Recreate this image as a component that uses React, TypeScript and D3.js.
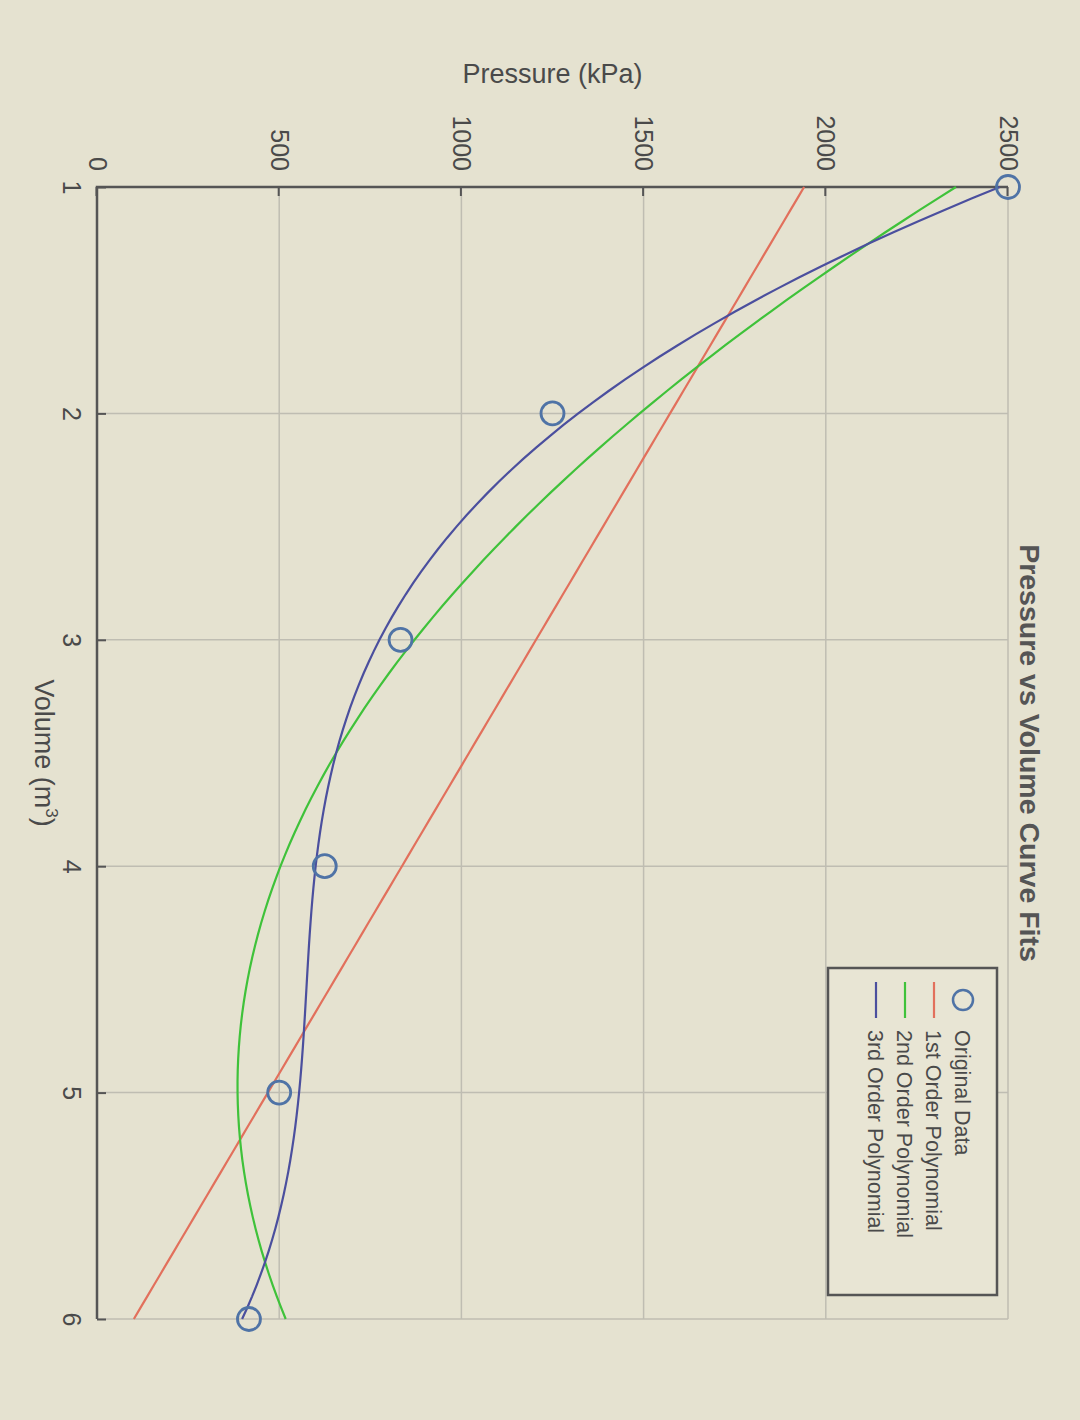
import React, { useEffect, useRef } from "react";
import * as d3 from "d3";

// ---- data ----
const volume = [1, 2, 3, 4, 5, 6];
const pressure = [2500, 1250, 833, 625, 500, 417];
// polynomial coefficients (c0 + c1*V + c2*V^2 + c3*V^3) of the fitted curves
const linearCoef = [2308.3, -367.86];
const quadCoef = [3475.0, -1242.86, 125.0];
const cubicCoef = [4486.1, -2514.8, 546.3, -40.12];
const xTicks = [1, 2, 3, 4, 5, 6];
const yTicks = [0, 500, 1000, 1500, 2000, 2500];
const legendLabels = ["Original Data", "1st Order Polynomial", "2nd Order Polynomial", "3rd Order Polynomial"];
const title = "Pressure vs Volume Curve Fits";
const xLabel = "Volume (m";
const yLabel = "Pressure (kPa)";

const FONT = "Liberation Sans, Arial, sans-serif";
const COLORS = { data: "#4f73a6", lin: "#e2705c", quad: "#3fc23a", cubic: "#4b4f9e" };

export default function App() {
  const ref = useRef<SVGSVGElement>(null);

  useEffect(() => {
    const svg = d3.select(ref.current);
    svg.selectAll("*").remove();
    svg.append("rect").attr("width", 1080).attr("height", 1420).attr("fill", "#e5e2d0");

    // chart drawn unrotated, then turned 90deg clockwise
    const g = svg.append("g").attr("transform", "translate(1080,0) rotate(90)");
    const x = d3.scaleLinear().domain([1, 6]).range([187, 1319]);
    const y = d3.scaleLinear().domain([0, 2500]).range([983, 72]);

    // grid
    g.append("g").selectAll("line").data(xTicks.slice(1)).join("line")
      .attr("x1", (d) => x(d)).attr("x2", (d) => x(d)).attr("y1", y(0)).attr("y2", y(2500))
      .attr("stroke", "#bfbdb2").attr("stroke-width", 1.5);
    g.append("g").selectAll("line").data(yTicks.slice(1)).join("line")
      .attr("y1", (d) => y(d)).attr("y2", (d) => y(d)).attr("x1", x(1)).attr("x2", x(6))
      .attr("stroke", "#bfbdb2").attr("stroke-width", 1.5);

    // axes
    const xAxis = d3.axisBottom(x).tickValues(xTicks).tickSize(-9).tickPadding(16).tickFormat(d3.format("d"));
    const yAxis = d3.axisLeft(y).tickValues(yTicks).tickSize(-9).tickPadding(16).tickFormat(d3.format("d"));
    const gx = g.append("g").attr("transform", `translate(0,${y(0)})`).call(xAxis);
    const gy = g.append("g").attr("transform", `translate(${x(1)},0)`).call(yAxis);
    [gx, gy].forEach((a) => {
      a.select(".domain").remove();
      a.selectAll(".tick line").attr("stroke", "#555").attr("stroke-width", 2);
      a.selectAll(".tick text").attr("fill", "#4a4a4a").attr("font-size", 25).attr("font-family", FONT);
    });
    g.append("path")
      .attr("d", `M${x(1)},${y(2500)}L${x(1)},${y(0)}L${x(6)},${y(0)}`)
      .attr("fill", "none").attr("stroke", "#555").attr("stroke-width", 2.5);

    // fitted curves
    const samples = d3.range(1, 6.0001, 0.05);
    const poly = (c: number[], v: number) => c.reduce((s, k, i) => s + k * Math.pow(v, i), 0);
    const line = d3.line<number>().x((v) => x(v));
    const curves: [number[], string][] = [
      [linearCoef, COLORS.lin],
      [quadCoef, COLORS.quad],
      [cubicCoef, COLORS.cubic],
    ];
    curves.forEach(([c, col]) => {
      g.append("path").datum(samples)
        .attr("d", line.y((v) => y(poly(c, v)))(samples))
        .attr("fill", "none").attr("stroke", col).attr("stroke-width", 2.2);
    });

    // data points
    g.append("g").selectAll("circle").data(volume).join("circle")
      .attr("cx", (d) => x(d)).attr("cy", (d, i) => y(pressure[i])).attr("r", 11.5)
      .attr("fill", "none").attr("stroke", COLORS.data).attr("stroke-width", 2.8);

    // title & labels
    g.append("text").attr("x", (x(1) + x(6)) / 2).attr("y", 60).attr("text-anchor", "middle")
      .attr("font-family", FONT).attr("font-size", 28.5).attr("font-weight", "bold").attr("fill", "#555")
      .text(title);
    const xl = g.append("text").attr("x", (x(1) + x(6)) / 2).attr("y", 1045).attr("text-anchor", "middle")
      .attr("font-family", FONT).attr("font-size", 27).attr("fill", "#4a4a4a");
    xl.append("tspan").text(xLabel);
    xl.append("tspan").attr("font-size", 17).attr("dy", -11).text("3");
    xl.append("tspan").attr("dy", 11).text(")");
    g.append("text").attr("transform", `translate(83,${(y(0) + y(2500)) / 2}) rotate(-90)`)
      .attr("text-anchor", "middle").attr("font-family", FONT).attr("font-size", 27).attr("fill", "#4a4a4a")
      .text(yLabel);

    // legend
    const lg = g.append("g").attr("transform", `translate(968,83)`);
    lg.append("rect").attr("width", 327).attr("height", 169).attr("fill", "#e8e5d4")
      .attr("stroke", "#555").attr("stroke-width", 2.5);
    const legendColors = [COLORS.data, COLORS.lin, COLORS.quad, COLORS.cubic];
    legendLabels.forEach((lab, i) => {
      const ry = 34 + i * 29;
      if (i === 0) {
        lg.append("circle").attr("cx", 32).attr("cy", ry).attr("r", 10)
          .attr("fill", "none").attr("stroke", legendColors[i]).attr("stroke-width", 2.5);
      } else {
        lg.append("line").attr("x1", 14).attr("x2", 50).attr("y1", ry).attr("y2", ry)
          .attr("stroke", legendColors[i]).attr("stroke-width", 2.2);
      }
      lg.append("text").attr("x", 62).attr("y", ry).attr("dy", "0.35em")
        .attr("font-family", FONT).attr("font-size", 21.5).attr("fill", "#4a4a4a").text(lab);
    });
  }, []);

  return <svg ref={ref} width={1080} height={1420} style={{ position: "absolute", left: 0, top: 0 }} />;
}
